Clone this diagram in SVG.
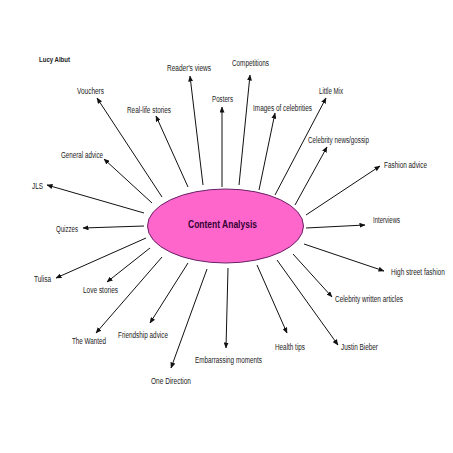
<svg xmlns="http://www.w3.org/2000/svg" width="453" height="453" viewBox="0 0 453 453">
<style>
.lbl{font-family:"Liberation Sans",Arial,sans-serif;font-size:8.5px;fill:#222}
.c line{stroke:#111;stroke-width:1;marker-end:url(#ah)}
</style>
<defs>
<marker id="ah" markerUnits="userSpaceOnUse" markerWidth="6" markerHeight="5" refX="5.5" refY="2.5" orient="auto">
<path d="M0,0 L6,2.5 L0,5 z" fill="#111"/>
</marker>
</defs>
<rect width="453" height="453" fill="#fff"/>
<text x="39" y="62" class="lbl" style="font-weight:bold;font-size:8px" textLength="31" lengthAdjust="spacingAndGlyphs">Lucy Albut</text>
<g class="c" id="connectors">
<line x1="203" y1="185" x2="190" y2="76"/>
<line x1="239" y1="185" x2="250" y2="75"/>
<line x1="162" y1="197" x2="97" y2="98"/>
<line x1="275" y1="195" x2="326" y2="98"/>
<line x1="222" y1="187" x2="222" y2="107"/>
<line x1="188" y1="187" x2="156" y2="116"/>
<line x1="259" y1="190" x2="275" y2="113"/>
<line x1="295" y1="205" x2="327" y2="147"/>
<line x1="152" y1="203" x2="104" y2="159"/>
<line x1="306" y1="215" x2="380" y2="166"/>
<line x1="144" y1="213" x2="47" y2="185"/>
<line x1="306" y1="228" x2="365" y2="225"/>
<line x1="144" y1="226" x2="83" y2="228"/>
<line x1="304" y1="244" x2="384" y2="271"/>
<line x1="146" y1="238" x2="56" y2="278"/>
<line x1="150" y1="248" x2="107" y2="282"/>
<line x1="293" y1="254" x2="332" y2="297"/>
<line x1="188" y1="263" x2="150" y2="323"/>
<line x1="162" y1="257" x2="96" y2="333"/>
<line x1="257" y1="265" x2="287" y2="333"/>
<line x1="277" y1="260" x2="338" y2="345"/>
<line x1="228" y1="268" x2="226" y2="348"/>
<line x1="207" y1="269" x2="171" y2="368"/>
</g>
<g id="center">
<ellipse cx="225.5" cy="226" rx="78" ry="37" fill="#FF66CC" stroke="#662266" stroke-width="1"/>
<text x="188" y="227.5" style="font-family:'Liberation Sans',Arial,sans-serif;font-size:11px;font-weight:bold;fill:#330033" textLength="69" lengthAdjust="spacingAndGlyphs">Content Analysis</text>
</g>
<g id="n1"><text class="lbl" x="167" y="71" textLength="44" lengthAdjust="spacingAndGlyphs">Reader's views</text></g>
<g id="n2"><text class="lbl" x="232" y="66" textLength="37" lengthAdjust="spacingAndGlyphs">Competitions</text></g>
<g id="n3"><text class="lbl" x="77" y="94" textLength="27" lengthAdjust="spacingAndGlyphs">Vouchers</text></g>
<g id="n4"><text class="lbl" x="319" y="94" textLength="24" lengthAdjust="spacingAndGlyphs">Little Mix</text></g>
<g id="n5"><text class="lbl" x="212" y="102" textLength="21" lengthAdjust="spacingAndGlyphs">Posters</text></g>
<g id="n6"><text class="lbl" x="127" y="113" textLength="44" lengthAdjust="spacingAndGlyphs">Real-life stories</text></g>
<g id="n7"><text class="lbl" x="253" y="111" textLength="59" lengthAdjust="spacingAndGlyphs">Images of celebrities</text></g>
<g id="n8"><text class="lbl" x="308" y="143" textLength="61" lengthAdjust="spacingAndGlyphs">Celebrity news/gossip</text></g>
<g id="n9"><text class="lbl" x="61" y="158" textLength="42" lengthAdjust="spacingAndGlyphs">General advice</text></g>
<g id="n10"><text class="lbl" x="384" y="168" textLength="43" lengthAdjust="spacingAndGlyphs">Fashion advice</text></g>
<g id="n11"><text class="lbl" x="32" y="189" textLength="11" lengthAdjust="spacingAndGlyphs">JLS</text></g>
<g id="n12"><text class="lbl" x="373" y="223" textLength="27" lengthAdjust="spacingAndGlyphs">Interviews</text></g>
<g id="n13"><text class="lbl" x="56" y="232" textLength="22" lengthAdjust="spacingAndGlyphs">Quizzes</text></g>
<g id="n14"><text class="lbl" transform="translate(391,275) scale(0.76,1)" x="0" y="0">High street fashion</text></g>
<g id="n15"><text class="lbl" x="34" y="282" textLength="17" lengthAdjust="spacingAndGlyphs">Tulisa</text></g>
<g id="n16"><text class="lbl" x="83" y="293" textLength="35" lengthAdjust="spacingAndGlyphs">Love stories</text></g>
<g id="n17"><text class="lbl" x="335" y="302" textLength="68" lengthAdjust="spacingAndGlyphs">Celebrity written articles</text></g>
<g id="n18"><text class="lbl" x="118" y="338" textLength="50" lengthAdjust="spacingAndGlyphs">Friendship advice</text></g>
<g id="n19"><text class="lbl" x="72" y="344" textLength="34" lengthAdjust="spacingAndGlyphs">The Wanted</text></g>
<g id="n20"><text class="lbl" x="275" y="350" textLength="30" lengthAdjust="spacingAndGlyphs">Health tips</text></g>
<g id="n21"><text class="lbl" x="341" y="350" textLength="37" lengthAdjust="spacingAndGlyphs">Justin Bieber</text></g>
<g id="n22"><text class="lbl" x="195" y="363" textLength="67" lengthAdjust="spacingAndGlyphs">Embarrassing moments</text></g>
<g id="n23"><text class="lbl" x="151" y="384" textLength="40" lengthAdjust="spacingAndGlyphs">One Direction</text></g>
</svg>
